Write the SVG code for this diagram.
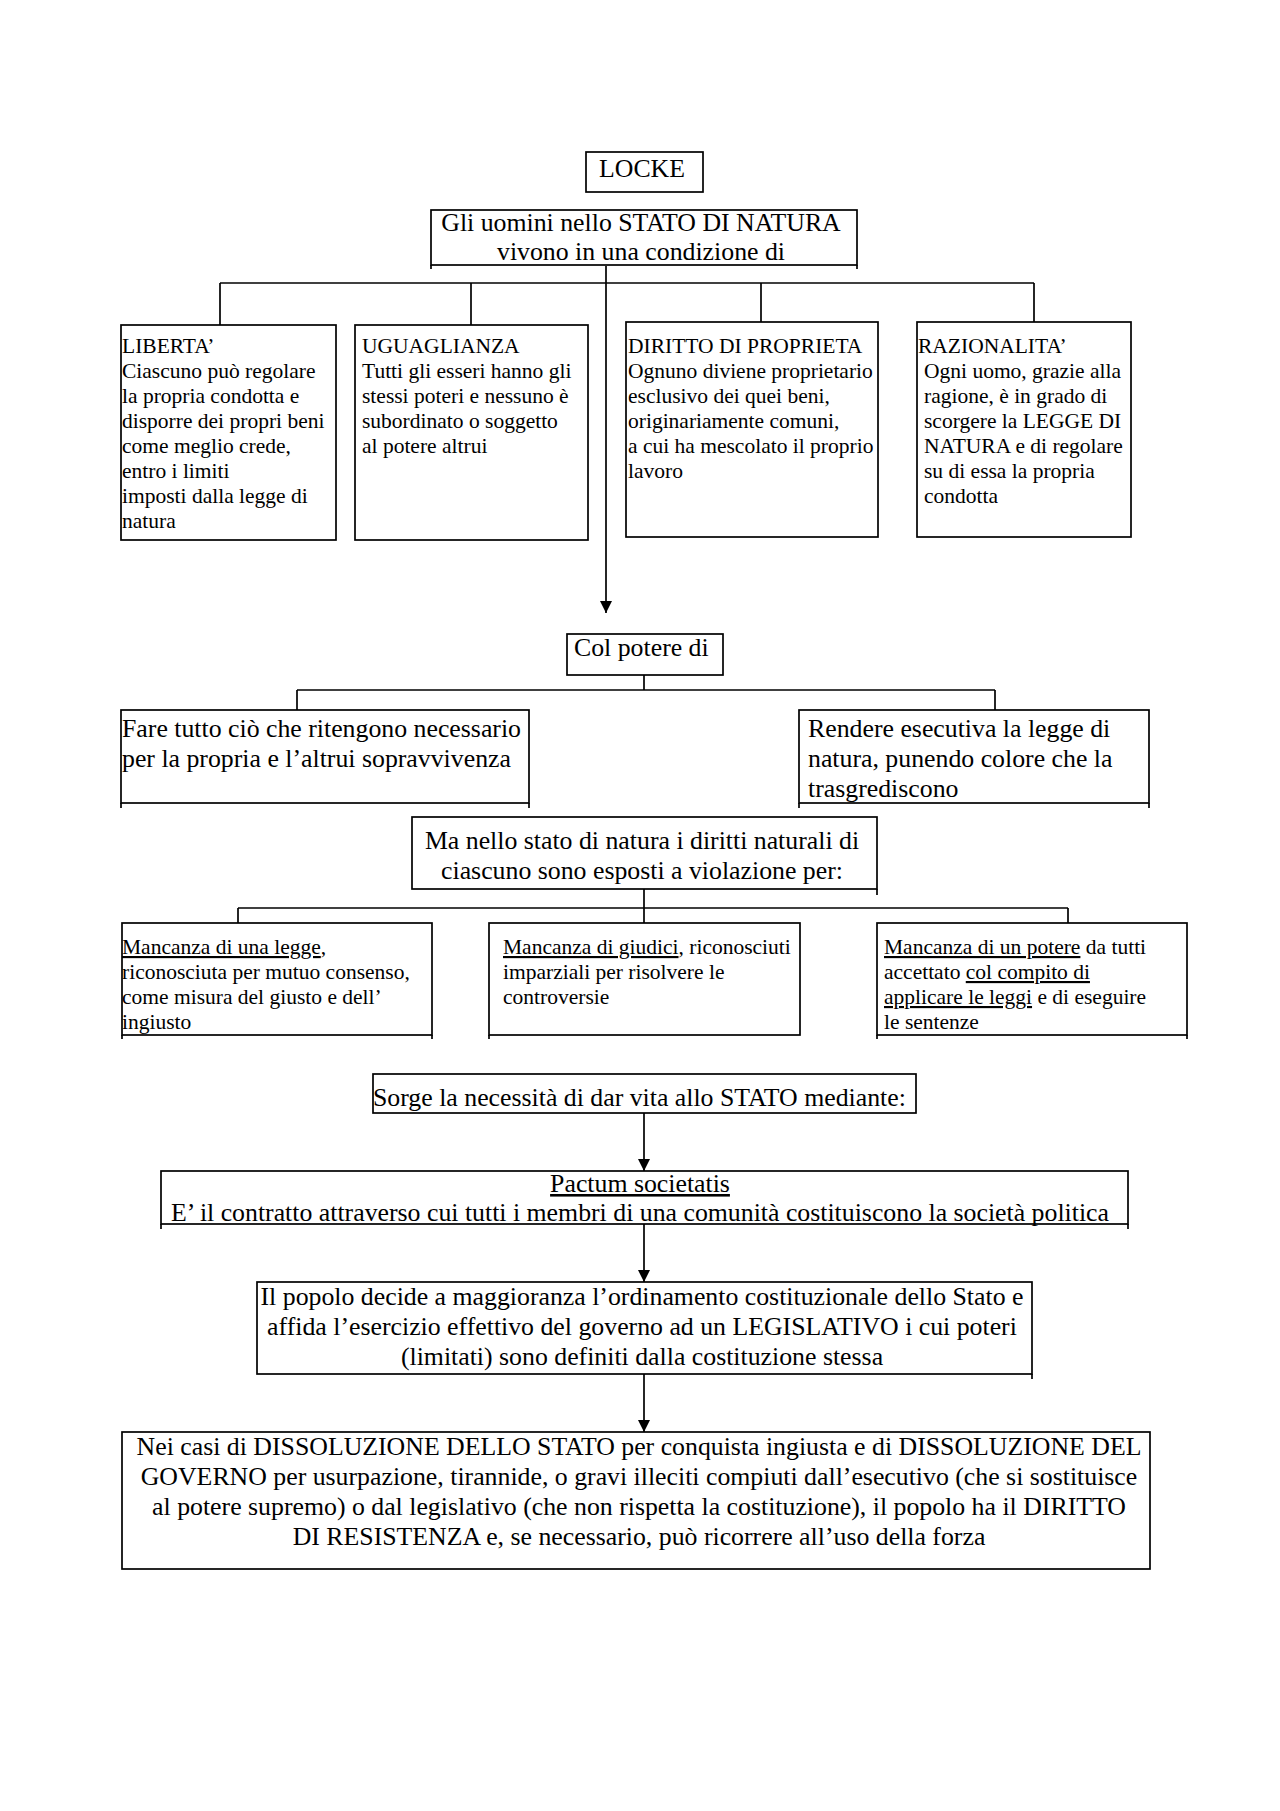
<svg xmlns="http://www.w3.org/2000/svg" width="1280" height="1811" viewBox="0 0 1280 1811">
<defs>
<style>
.bx{fill:none;stroke:#000;stroke-width:1.7}
.ln{fill:none;stroke:#000;stroke-width:1.7}
.L{font-family:"Liberation Serif","Times New Roman",serif;font-size:25.8px;fill:#000}
.S{font-family:"Liberation Serif","Times New Roman",serif;font-size:21.5px;fill:#000}
.u{text-decoration:underline}
</style>
<marker id="ah" viewBox="0 0 12 12" refX="12" refY="6" markerWidth="12" markerHeight="12" markerUnits="userSpaceOnUse" orient="auto">
<path d="M0,0 L12,6 L0,12 Z" fill="#000"/>
</marker>
</defs>
<rect width="1280" height="1811" fill="#fff"/>

<g id="connectors">
<line class="ln" x1="606" y1="266" x2="606" y2="613" marker-end="url(#ah)"/>
<line class="ln" x1="220" y1="283" x2="1034" y2="283"/>
<line class="ln" x1="220" y1="283" x2="220" y2="325"/>
<line class="ln" x1="471" y1="283" x2="471" y2="325"/>
<line class="ln" x1="761" y1="283" x2="761" y2="322"/>
<line class="ln" x1="1034" y1="283" x2="1034" y2="322"/>
<line class="ln" x1="644" y1="675" x2="644" y2="690"/>
<line class="ln" x1="297" y1="690" x2="995" y2="690"/>
<line class="ln" x1="297" y1="690" x2="297" y2="710"/>
<line class="ln" x1="995" y1="690" x2="995" y2="710"/>
<line class="ln" x1="644" y1="889" x2="644" y2="923"/>
<line class="ln" x1="238" y1="908" x2="1068" y2="908"/>
<line class="ln" x1="238" y1="908" x2="238" y2="923"/>
<line class="ln" x1="1068" y1="908" x2="1068" y2="923"/>
<line class="ln" x1="644" y1="1113" x2="644" y2="1171" marker-end="url(#ah)"/>
<line class="ln" x1="644" y1="1224" x2="644" y2="1282" marker-end="url(#ah)"/>
<line class="ln" x1="644" y1="1374" x2="644" y2="1432" marker-end="url(#ah)"/>
</g>

<g id="locke">
<rect class="bx" x="586" y="152" width="117" height="40"/>
<text class="L" x="599" y="177">LOCKE</text>
</g>

<g id="stato-natura">
<rect class="bx" x="431" y="210" width="426" height="55"/>
<line class="ln" x1="431" y1="265" x2="431" y2="269"/>
<line class="ln" x1="857" y1="265" x2="857" y2="269"/>
<text class="L" text-anchor="middle" x="641" y="231">Gli uomini nello STATO DI NATURA</text>
<text class="L" text-anchor="middle" x="641" y="260">vivono in una condizione di</text>
</g>

<g id="liberta">
<rect class="bx" x="121" y="325" width="215" height="215"/>
<text class="S" x="122" y="353">LIBERTA’</text>
<text class="S" x="122" y="378">Ciascuno può regolare</text>
<text class="S" x="122" y="403">la propria condotta e</text>
<text class="S" x="122" y="428">disporre dei propri beni</text>
<text class="S" x="122" y="453">come meglio crede,</text>
<text class="S" x="122" y="478">entro i limiti</text>
<text class="S" x="122" y="503">imposti dalla legge di</text>
<text class="S" x="122" y="528">natura</text>
</g>

<g id="uguaglianza">
<rect class="bx" x="355" y="325" width="233" height="215"/>
<text class="S" x="362" y="353">UGUAGLIANZA</text>
<text class="S" x="362" y="378">Tutti gli esseri hanno gli</text>
<text class="S" x="362" y="403">stessi poteri e nessuno è</text>
<text class="S" x="362" y="428">subordinato o soggetto</text>
<text class="S" x="362" y="453">al potere altrui</text>
</g>

<g id="proprieta">
<rect class="bx" x="626" y="322" width="252" height="215"/>
<text class="S" x="628" y="353">DIRITTO DI PROPRIETA</text>
<text class="S" x="628" y="378">Ognuno diviene proprietario</text>
<text class="S" x="628" y="403">esclusivo dei quei beni,</text>
<text class="S" x="628" y="428">originariamente comuni,</text>
<text class="S" x="628" y="453">a cui ha mescolato il proprio</text>
<text class="S" x="628" y="478">lavoro</text>
</g>

<g id="razionalita">
<rect class="bx" x="917" y="322" width="214" height="215"/>
<text class="S" x="918" y="353">RAZIONALITA’</text>
<text class="S" x="924" y="378">Ogni uomo, grazie alla</text>
<text class="S" x="924" y="403">ragione, è in grado di</text>
<text class="S" x="924" y="428">scorgere la LEGGE DI</text>
<text class="S" x="924" y="453">NATURA e di regolare</text>
<text class="S" x="924" y="478">su di essa la propria</text>
<text class="S" x="924" y="503">condotta</text>
</g>

<g id="col-potere">
<rect class="bx" x="567" y="634" width="156" height="41"/>
<text class="L" x="574" y="656">Col potere di</text>
</g>

<g id="fare-tutto">
<rect class="bx" x="121" y="710" width="408" height="93"/>
<line class="ln" x1="121" y1="803" x2="121" y2="808"/>
<line class="ln" x1="529" y1="803" x2="529" y2="808"/>
<text class="L" x="122" y="737">Fare tutto ciò che ritengono necessario</text>
<text class="L" x="122" y="767">per la propria e l’altrui sopravvivenza</text>
</g>

<g id="rendere-esecutiva">
<rect class="bx" x="799" y="710" width="350" height="93"/>
<line class="ln" x1="799" y1="803" x2="799" y2="808"/>
<line class="ln" x1="1149" y1="803" x2="1149" y2="808"/>
<text class="L" x="808" y="737">Rendere esecutiva la legge di</text>
<text class="L" x="808" y="767">natura, punendo colore che la</text>
<text class="L" x="808" y="797">trasgrediscono</text>
</g>

<g id="ma-nello-stato">
<rect class="bx" x="412" y="817" width="465" height="72"/>
<line class="ln" x1="877" y1="889" x2="877" y2="895"/>
<text class="L" text-anchor="middle" x="642" y="849">Ma nello stato di natura i diritti naturali di</text>
<text class="L" text-anchor="middle" x="642" y="879">ciascuno sono esposti a violazione per:</text>
</g>

<g id="mancanza-legge">
<rect class="bx" x="122" y="923" width="310" height="112"/>
<line class="ln" x1="122" y1="1035" x2="122" y2="1039"/>
<line class="ln" x1="432" y1="1035" x2="432" y2="1039"/>
<text class="S" x="122" y="954"><tspan class="u">Mancanza di una legge</tspan>,</text>
<text class="S" x="122" y="979">riconosciuta per mutuo consenso,</text>
<text class="S" x="122" y="1004">come misura del giusto e dell’</text>
<text class="S" x="122" y="1029">ingiusto</text>
</g>

<g id="mancanza-giudici">
<rect class="bx" x="489" y="923" width="311" height="112"/>
<line class="ln" x1="489" y1="1035" x2="489" y2="1039"/>
<text class="S" x="503" y="954"><tspan class="u">Mancanza di giudici</tspan>, riconosciuti</text>
<text class="S" x="503" y="979">imparziali per risolvere le</text>
<text class="S" x="503" y="1004">controversie</text>
</g>

<g id="mancanza-potere">
<rect class="bx" x="877" y="923" width="310" height="112"/>
<line class="ln" x1="877" y1="1035" x2="877" y2="1039"/>
<line class="ln" x1="1187" y1="1035" x2="1187" y2="1039"/>
<text class="S" x="884" y="954"><tspan class="u">Mancanza di un potere</tspan> da tutti</text>
<text class="S" x="884" y="979">accettato <tspan class="u">col compito di</tspan></text>
<text class="S" x="884" y="1004"><tspan class="u">applicare le leggi</tspan> e di eseguire</text>
<text class="S" x="884" y="1029">le sentenze</text>
</g>

<g id="sorge">
<rect class="bx" x="373" y="1074" width="543" height="39"/>
<text class="L" x="373" y="1106">Sorge la necessità di dar vita allo STATO mediante:</text>
</g>

<g id="pactum">
<rect class="bx" x="161" y="1171" width="967" height="53"/>
<line class="ln" x1="161" y1="1224" x2="161" y2="1229"/>
<line class="ln" x1="1128" y1="1224" x2="1128" y2="1229"/>
<text class="L" text-anchor="middle" x="640" y="1192"><tspan class="u">Pactum societatis</tspan></text>
<text class="L" text-anchor="middle" x="640" y="1221">E’ il contratto attraverso cui tutti i membri di una comunità costituiscono la società politica</text>
</g>

<g id="popolo">
<rect class="bx" x="257" y="1282" width="775" height="92"/>
<line class="ln" x1="1032" y1="1374" x2="1032" y2="1379"/>
<text class="L" text-anchor="middle" x="642" y="1305">Il popolo decide a maggioranza l’ordinamento costituzionale dello Stato e</text>
<text class="L" text-anchor="middle" x="642" y="1335">affida l’esercizio effettivo del governo ad un LEGISLATIVO i cui poteri</text>
<text class="L" text-anchor="middle" x="642" y="1365">(limitati) sono definiti dalla costituzione stessa</text>
</g>

<g id="dissoluzione">
<rect class="bx" x="122" y="1432" width="1028" height="137"/>
<text class="L" text-anchor="middle" x="639" y="1455">Nei casi di DISSOLUZIONE DELLO STATO per conquista ingiusta e di DISSOLUZIONE DEL</text>
<text class="L" text-anchor="middle" x="639" y="1485">GOVERNO per usurpazione, tirannide, o gravi illeciti compiuti dall’esecutivo (che si sostituisce</text>
<text class="L" text-anchor="middle" x="639" y="1515">al potere supremo) o dal legislativo (che non rispetta la costituzione), il popolo ha il DIRITTO</text>
<text class="L" text-anchor="middle" x="639" y="1545">DI RESISTENZA e, se necessario, può ricorrere all’uso della forza</text>
</g>
</svg>
